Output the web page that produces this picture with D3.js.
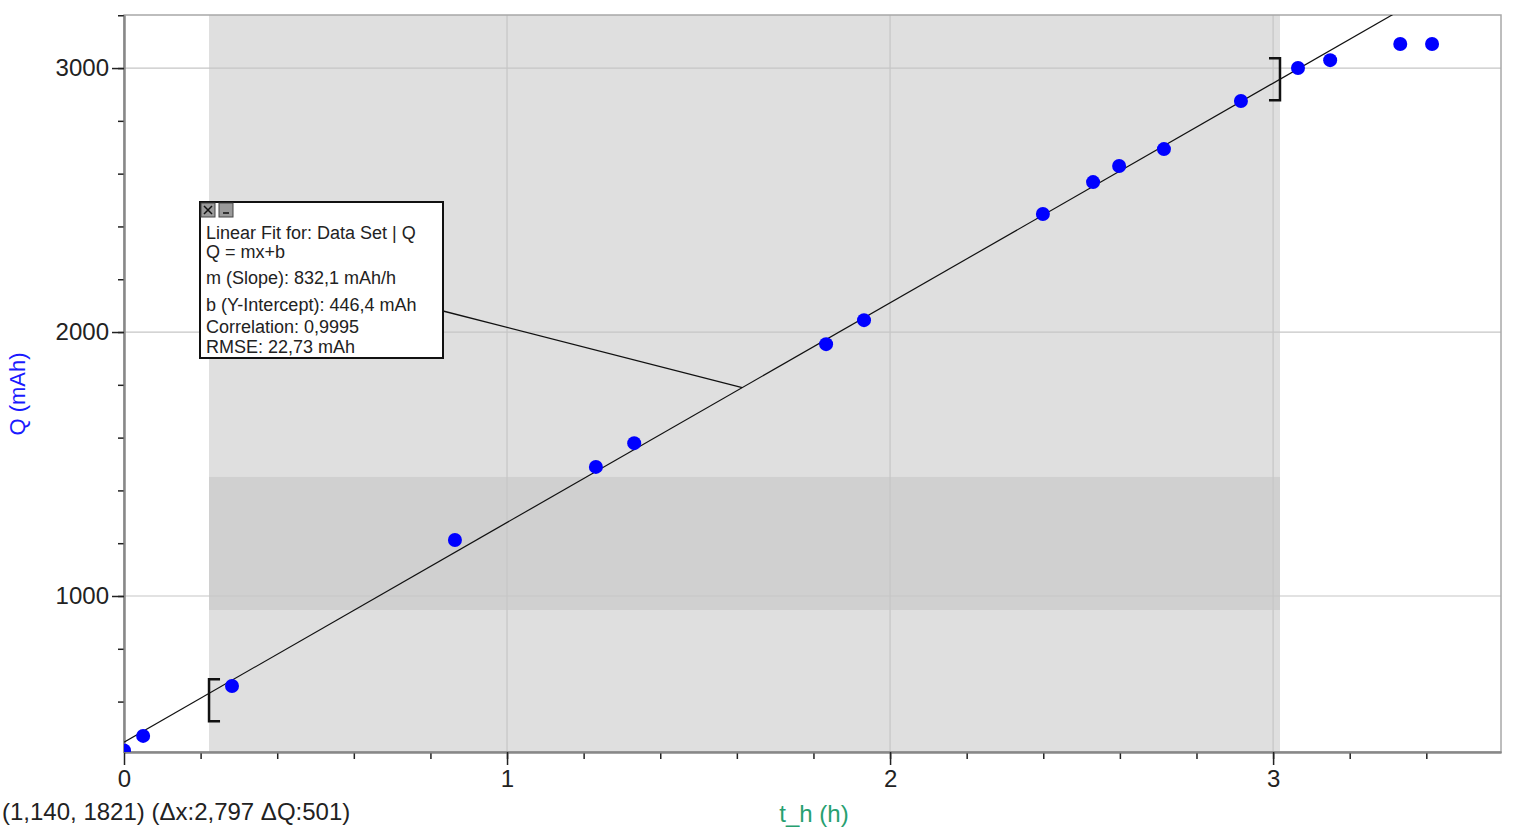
<!DOCTYPE html>
<html>
<head>
<meta charset="utf-8">
<script src="https://cdn.jsdelivr.net/npm/d3@7"></script>
<style>
  body { margin: 0; background: #fff; }
  text { font-family: "Liberation Sans", Arial, sans-serif; }
</style>
</head>
<body>
<svg id="myGraph" width="1516" height="828"></svg>
<script>
var svgWidth = 1516;
var svgHeight = 828;

// データ
var tValues = [0, 0.05, 0.282, 0.864, 1.232, 1.332, 1.833, 1.932, 2.399, 2.530, 2.598, 2.715, 2.916, 3.065, 3.149, 3.332, 3.415];
var qValues = [415, 470, 659, 1212, 1489, 1579, 1954, 2045, 2447, 2568, 2629, 2693, 2875, 3000, 3030, 3091, 3091];
var xTicks = [0, 1, 2, 3];
var yTicks = [1000, 2000, 3000];
var fitSlope = 832.1;
var fitIntercept = 446.4;
var fitRange = [0.222, 3.018];
var bandRange = [947, 1451];
var boxLines = ['Linear Fit for: Data Set | Q', 'Q = mx+b', 'm (Slope): 832,1 mAh/h', 'b (Y-Intercept): 446,4 mAh', 'Correlation: 0,9995', 'RMSE: 22,73 mAh'];
var boxLineY = [239, 258, 284, 311, 333, 353];
var statusText = '(1,140, 1821) (\u0394x:2,797 \u0394Q:501)';

var margin = { left: 124, top: 15, right: 15, bottom: 76 };
var plotW = 1501 - margin.left;
var plotH = 752 - margin.top;

var svg = d3.select('#myGraph');

var xScale = d3.scaleLinear().domain([0, 3.595]).range([margin.left, margin.left + plotW]);
var yScale = d3.scaleLinear().domain([409, 3201]).range([margin.top + plotH, margin.top]);

svg.append('defs').append('clipPath').attr('id', 'clip')
  .append('rect')
  .attr('x', margin.left).attr('y', margin.top)
  .attr('width', plotW).attr('height', plotH);

// 選択範囲
svg.append('rect')
  .attr('x', xScale(fitRange[0])).attr('y', margin.top)
  .attr('width', xScale(fitRange[1]) - xScale(fitRange[0]))
  .attr('height', plotH)
  .style('fill', '#dfdfdf');

svg.append('rect')
  .attr('x', xScale(fitRange[0])).attr('y', yScale(bandRange[1]))
  .attr('width', xScale(fitRange[1]) - xScale(fitRange[0]))
  .attr('height', yScale(bandRange[0]) - yScale(bandRange[1]))
  .style('fill', '#d0d0d0');

// グリッド
svg.selectAll('.vgrid').data(xTicks.slice(1)).enter().append('line')
  .attr('x1', function(d) { return xScale(d); }).attr('x2', function(d) { return xScale(d); })
  .attr('y1', margin.top).attr('y2', margin.top + plotH)
  .style('stroke', '#c6c6c6').style('stroke-width', 1.2);

svg.selectAll('.hgrid').data(yTicks).enter().append('line')
  .attr('x1', margin.left).attr('x2', margin.left + plotW)
  .attr('y1', function(d) { return yScale(d); }).attr('y2', function(d) { return yScale(d); })
  .style('stroke', '#c6c6c6').style('stroke-width', 1.2);

// 枠
svg.append('rect')
  .attr('x', margin.left).attr('y', margin.top)
  .attr('width', plotW).attr('height', plotH)
  .style('fill', 'none').style('stroke', '#a8a8a8').style('stroke-width', 1.5);

// 軸
var xAxis = d3.axisBottom(xScale).tickValues(xTicks).tickSize(13).tickSizeOuter(0).tickPadding(5)
  .tickFormat(d3.format('d'));
var xMinor = d3.axisBottom(xScale).tickValues(d3.range(0.2, 3.6, 0.2)).tickSize(7).tickFormat('').tickSizeOuter(0);
var yAxis = d3.axisLeft(yScale).tickValues(yTicks).tickSize(12).tickSizeOuter(0).tickPadding(3)
  .tickFormat(d3.format('d'));
var yMinor = d3.axisLeft(yScale).tickValues(d3.range(600, 3201, 200)).tickSize(6).tickFormat('').tickSizeOuter(0);

var bottomPos = 'translate(0,' + (margin.top + plotH) + ')';
var leftPos = 'translate(' + margin.left + ',0)';
svg.append('g').attr('transform', bottomPos).call(xMinor);
svg.append('g').attr('transform', bottomPos).call(xAxis);
svg.append('g').attr('transform', leftPos).call(yMinor);
svg.append('g').attr('transform', leftPos).call(yAxis);

svg.selectAll('.domain').style('stroke', '#888').style('stroke-width', 2);
svg.selectAll('.tick line').style('stroke', '#222').style('stroke-width', 1.5);
svg.selectAll('.tick text').style('font-size', '24px').style('fill', '#222')
  .style('font-family', '"Liberation Sans", Arial, sans-serif');

// 軸ラベル
svg.append('text')
  .attr('transform', 'translate(25,' + 394 + ') rotate(-90)')
  .attr('text-anchor', 'middle')
  .style('font-size', '22px').style('fill', '#1a1aff')
  .text('Q (mAh)');

svg.append('text')
  .attr('x', 814).attr('y', 822)
  .attr('text-anchor', 'middle')
  .style('font-size', '24px').style('fill', '#27a070')
  .text('t_h (h)');

svg.append('text')
  .attr('x', 2).attr('y', 820)
  .style('font-size', '24px').style('fill', '#222')
  .text(statusText);

// 近似直線
var plot = svg.append('g').attr('clip-path', 'url(#clip)');
plot.append('line')
  .attr('x1', xScale(0)).attr('y1', yScale(fitIntercept))
  .attr('x2', xScale(3.6)).attr('y2', yScale(fitSlope * 3.6 + fitIntercept))
  .style('stroke', '#111').style('stroke-width', 1.2);

// データ点
plot.selectAll('circle').data(tValues).enter().append('circle')
  .attr('cx', function(d) { return xScale(d); })
  .attr('cy', function(d, i) { return yScale(qValues[i]); })
  .attr('r', 7)
  .style('fill', '#0000ff');

// ブラケット
var bx0 = xScale(fitRange[0]);
var by0 = yScale(fitSlope * fitRange[0] + fitIntercept) + 7;
svg.append('path')
  .attr('d', 'M' + (bx0 + 11) + ',' + (by0 - 21) + 'H' + bx0 + 'V' + (by0 + 21) + 'H' + (bx0 + 11))
  .style('fill', 'none').style('stroke', '#111').style('stroke-width', 2.5);
var bx1 = xScale(fitRange[1]);
var by1 = yScale(fitSlope * fitRange[1] + fitIntercept);
svg.append('path')
  .attr('d', 'M' + (bx1 - 11) + ',' + (by1 - 21) + 'H' + bx1 + 'V' + (by1 + 21) + 'H' + (bx1 - 11))
  .style('fill', 'none').style('stroke', '#111').style('stroke-width', 2.5);

// 注釈ボックス
var tAnchor = 1.614;
svg.append('line')
  .attr('x1', 443).attr('y1', 311)
  .attr('x2', xScale(tAnchor)).attr('y2', yScale(fitSlope * tAnchor + fitIntercept))
  .style('stroke', '#111').style('stroke-width', 1.3);

svg.append('rect')
  .attr('x', 200).attr('y', 202).attr('width', 243).attr('height', 156)
  .style('fill', '#fff').style('stroke', '#111').style('stroke-width', 2);

[201, 219].forEach(function(x, i) {
  svg.append('rect').attr('x', x).attr('y', 203).attr('width', 14).attr('height', 14)
    .style('fill', '#9a9a9a').style('stroke', '#444').style('stroke-width', 1);
  if (i === 0) {
    svg.append('path').attr('d', 'M' + (x + 3) + ',206L' + (x + 11) + ',214M' + (x + 11) + ',206L' + (x + 3) + ',214')
      .style('stroke', '#111').style('stroke-width', 1.5);
  } else {
    svg.append('line').attr('x1', x + 4).attr('x2', x + 10).attr('y1', 213).attr('y2', 213)
      .style('stroke', '#111').style('stroke-width', 1.5);
  }
});

svg.selectAll('.boxText').data(boxLines).enter().append('text')
  .attr('x', 206)
  .attr('y', function(d, i) { return boxLineY[i]; })
  .style('font-size', '18px').style('fill', '#222')
  .text(function(d) { return d; });
</script>
</body>
</html>
